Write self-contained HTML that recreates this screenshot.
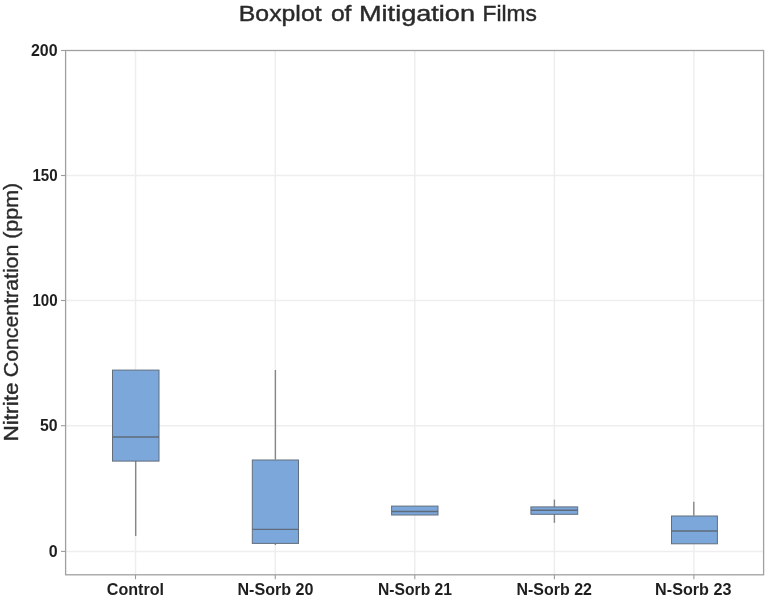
<!DOCTYPE html>
<html lang="en">
<head>
<meta charset="utf-8">
<title>Boxplot of Mitigation Films</title>
<style>
  html, body { margin: 0; padding: 0; background: #ffffff; }
  body { width: 768px; height: 600px; overflow: hidden; }
  svg { display: block; }
  text { font-family: "Liberation Sans", sans-serif; }
  .title { font-size: 21.6px; fill: #2a2a2a; stroke: #2a2a2a; stroke-width: 0.4px; }
  .ylab { font-size: 19.5px; fill: #2a2a2a; stroke: #2a2a2a; stroke-width: 0.35px; }
  .tick { font-size: 16.5px; font-weight: bold; fill: #1e1e1e; }
  .cat { font-size: 16.5px; font-weight: bold; fill: #1e1e1e; }
  .grid { stroke: #eeeeee; stroke-width: 1.5; }
  .axis { stroke: #a0a0a0; stroke-width: 1.3; fill: none; }
  .tk { stroke: #9c9c9c; stroke-width: 1.1; }
  .box { fill: #7ca7db; stroke: #626e7c; stroke-width: 1; }
  .med { stroke: #5f6b79; stroke-width: 1.4; }
  .wh { stroke: #858789; stroke-width: 1.4; }
</style>
</head>
<body>
<svg width="768" height="600" viewBox="0 0 768 600">
  <rect x="0" y="0" width="768" height="600" fill="#ffffff"/>

  <!-- title -->
  <g class="title">
    <text x="238.8" y="20.5" textLength="82.8" lengthAdjust="spacingAndGlyphs">Boxplot</text>
    <text x="330.9" y="20.5" textLength="20.6" lengthAdjust="spacingAndGlyphs">of</text>
    <text x="359" y="20.5" textLength="116" lengthAdjust="spacingAndGlyphs">Mitigation</text>
    <text x="482.5" y="20.5" textLength="54.4" lengthAdjust="spacingAndGlyphs">Films</text>
  </g>

  <!-- y axis label -->
  <g class="ylab">
    <text transform="translate(18.1,441.5) rotate(-90)" textLength="59" lengthAdjust="spacingAndGlyphs">Nitrite</text>
    <text transform="translate(18.1,377.2) rotate(-90)" textLength="132.5" lengthAdjust="spacingAndGlyphs">Concentration</text>
    <text transform="translate(18.1,238.8) rotate(-90)" textLength="56" lengthAdjust="spacingAndGlyphs">(ppm)</text>
  </g>

  <!-- gridlines -->
  <g class="grid">
    <line x1="66" x2="763" y1="175.5" y2="175.5"/>
    <line x1="66" x2="763" y1="300.5" y2="300.5"/>
    <line x1="66" x2="763" y1="425.7" y2="425.7"/>
    <line x1="66" x2="763" y1="551.4" y2="551.4"/>
    <line x1="135.5" x2="135.5" y1="51" y2="574"/>
    <line x1="275.3" x2="275.3" y1="51" y2="574"/>
    <line x1="414.8" x2="414.8" y1="51" y2="574"/>
    <line x1="554.4" x2="554.4" y1="51" y2="574"/>
    <line x1="693.9" x2="693.9" y1="51" y2="574"/>
  </g>

  <!-- frame -->
  <rect class="axis" x="65.6" y="50.5" width="698" height="524.3"/>

  <!-- y ticks -->
  <g class="tk">
    <line x1="61" x2="65.6" y1="50.5" y2="50.5"/>
    <line x1="61" x2="65.6" y1="175.5" y2="175.5"/>
    <line x1="61" x2="65.6" y1="300.5" y2="300.5"/>
    <line x1="61" x2="65.6" y1="425.7" y2="425.7"/>
    <line x1="61" x2="65.6" y1="551.4" y2="551.4"/>
    <line x1="135.5" x2="135.5" y1="574.8" y2="579.2"/>
    <line x1="275.3" x2="275.3" y1="574.8" y2="579.2"/>
    <line x1="414.8" x2="414.8" y1="574.8" y2="579.2"/>
    <line x1="554.4" x2="554.4" y1="574.8" y2="579.2"/>
    <line x1="693.9" x2="693.9" y1="574.8" y2="579.2"/>
  </g>

  <!-- y tick labels -->
  <g class="tick" text-anchor="end">
    <text x="57.6" y="55.9" textLength="26.6" lengthAdjust="spacingAndGlyphs">200</text>
    <text x="57.6" y="181.1" textLength="25.2" lengthAdjust="spacingAndGlyphs">150</text>
    <text x="57.6" y="306.1" textLength="25.2" lengthAdjust="spacingAndGlyphs">100</text>
    <text x="57.6" y="431.2" textLength="17.6" lengthAdjust="spacingAndGlyphs">50</text>
    <text x="57.6" y="556.8" textLength="8.9" lengthAdjust="spacingAndGlyphs">0</text>
  </g>

  <!-- category labels -->
  <g class="cat" text-anchor="middle">
    <text x="135.4" y="595.3" textLength="57.2" lengthAdjust="spacingAndGlyphs">Control</text>
    <text x="275.5" y="595.3" textLength="76" lengthAdjust="spacingAndGlyphs">N-Sorb 20</text>
    <text x="415" y="595.3" textLength="74" lengthAdjust="spacingAndGlyphs">N-Sorb 21</text>
    <text x="554.2" y="595.3" textLength="75.4" lengthAdjust="spacingAndGlyphs">N-Sorb 22</text>
    <text x="693.3" y="595.3" textLength="76.4" lengthAdjust="spacingAndGlyphs">N-Sorb 23</text>
  </g>

  <!-- whiskers -->
  <g class="wh">
    <line x1="135.7" x2="135.7" y1="461" y2="536"/>
    <line x1="275.4" x2="275.4" y1="370" y2="459.5"/>
    <line x1="275.4" x2="275.4" y1="543.8" y2="545"/>
    <line x1="554.4" x2="554.4" y1="499.6" y2="522.8"/>
    <line x1="693.8" x2="693.8" y1="501.7" y2="515.5"/>
  </g>

  <!-- boxes -->
  <g class="box">
    <rect x="112.5" y="370.1" width="46.5" height="91"/>
    <rect x="252.3" y="460" width="46.2" height="83.4"/>
    <rect x="391.6" y="506.1" width="46.4" height="8.9"/>
    <rect x="530.9" y="506.9" width="46.8" height="7.4"/>
    <rect x="671.5" y="516" width="45.9" height="27.8"/>
  </g>

  <!-- medians -->
  <g class="med">
    <line x1="112.5" x2="159" y1="437" y2="437"/>
    <line x1="252.3" x2="298.5" y1="529.4" y2="529.4"/>
    <line x1="391.6" x2="438" y1="511.5" y2="511.5"/>
    <line x1="530.9" x2="577.7" y1="510.3" y2="510.3"/>
    <line x1="671.5" x2="717.4" y1="531" y2="531"/>
  </g>
</svg>
</body>
</html>
